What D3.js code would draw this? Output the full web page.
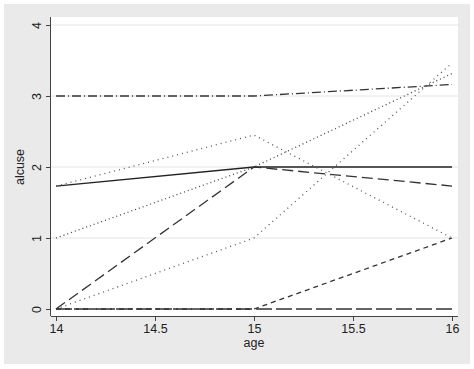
<!DOCTYPE html>
<html>
<head>
<meta charset="utf-8">
<script src="https://d3js.org/d3.v7.min.js"></script>
<style>
  body { margin: 0; background: #fff; }
  text { font-family: "Liberation Sans", Arial, sans-serif; fill: #222; }
  .axis path, .axis line { stroke: #444; }
</style>
</head>
<body>
<div id="chart"></div>
<script>
// data: alcuse by age, one array per subject
var ages = [14, 15, 16];
var s1 = [3, 3, 3.162];
var s2 = [1.732, 2, 2];
var s3 = [0, 2, 1.732];
var s4 = [1.732, 2.449, 1];
var s5 = [1, 2, 3.317];
var s6 = [0, 1, 3.464];
var s7 = [0, 0, 1];
var s8 = [0, 0, 0];
var xTicks = [14, 14.5, 15, 15.5, 16];
var yTicks = [0, 1, 2, 3, 4];

var series = [
  { v: s1, dash: "9,3,1,3", color: "#333" },
  { v: s2, dash: null, color: "#222" },
  { v: s3, dash: "11,5", color: "#333" },
  { v: s4, dash: "1,4", color: "#555" },
  { v: s5, dash: "1,3", color: "#444" },
  { v: s6, dash: "1,4", color: "#555" },
  { v: s7, dash: "5,4", color: "#333" },
  { v: s8, dash: "16,4", color: "#333" }
];

var W = 474, H = 369;
var svg = d3.select("#chart").append("svg").attr("width", W).attr("height", H);

// outer background and plot region
svg.append("rect").attr("x", 4).attr("y", 4).attr("width", 466).attr("height", 360)
  .attr("fill", "#eaeaea");
var plot = { left: 51, right: 458, top: 17, bottom: 316 };
svg.append("rect").attr("x", plot.left).attr("y", plot.top)
  .attr("width", plot.right - plot.left).attr("height", plot.bottom - plot.top)
  .attr("fill", "#fff");

var x = d3.scaleLinear().domain([14, 16]).range([56, 452]);
var y = d3.scaleLinear().domain([0, 4]).range([309, 25]);

// gridlines
svg.append("g").selectAll("line").data(yTicks.slice(1)).enter().append("line")
  .attr("x1", plot.left).attr("x2", plot.right)
  .attr("y1", function(d) { return y(d); }).attr("y2", function(d) { return y(d); })
  .attr("stroke", "#e4e4e4").attr("stroke-width", 1);

// lines
var line = d3.line()
  .x(function(d, i) { return x(ages[i]); })
  .y(function(d) { return y(d); });

svg.append("g").selectAll("path").data(series).enter().append("path")
  .attr("d", function(d) { return line(d.v); })
  .attr("fill", "none")
  .attr("stroke", function(d) { return d.color; })
  .attr("stroke-width", 1.3)
  .attr("stroke-dasharray", function(d) { return d.dash; });

// x axis
var gx = svg.append("g").attr("class", "axis")
  .attr("transform", "translate(0," + plot.bottom + ")")
  .call(d3.axisBottom(x).tickValues(xTicks).tickSize(5).tickPadding(3).tickSizeOuter(0)
    .tickFormat(d3.format("")));
gx.select(".domain").attr("d", "M" + plot.left + ",0.5H" + plot.right);
gx.selectAll("text").attr("font-size", 12.5);

// y axis
var gy = svg.append("g").attr("class", "axis")
  .attr("transform", "translate(" + plot.left + ",0)")
  .call(d3.axisLeft(y).tickValues(yTicks).tickSize(5).tickSizeOuter(0)
    .tickFormat(d3.format("d")));
gy.select(".domain").attr("d", "M-0.5," + plot.top + "V" + plot.bottom);
gy.selectAll(".tick text")
  .attr("font-size", 12.5)
  .attr("x", null).attr("dy", null)
  .attr("text-anchor", "middle")
  .attr("transform", "translate(-14,0) rotate(-90)")
  .attr("dy", "0.35em");

// axis titles
svg.append("text").attr("x", 254).attr("y", 347)
  .attr("text-anchor", "middle").attr("font-size", 12.5).text("age");
svg.append("text")
  .attr("transform", "translate(24,167) rotate(-90)")
  .attr("text-anchor", "middle").attr("font-size", 12.5).text("alcuse");
</script>
</body>
</html>
